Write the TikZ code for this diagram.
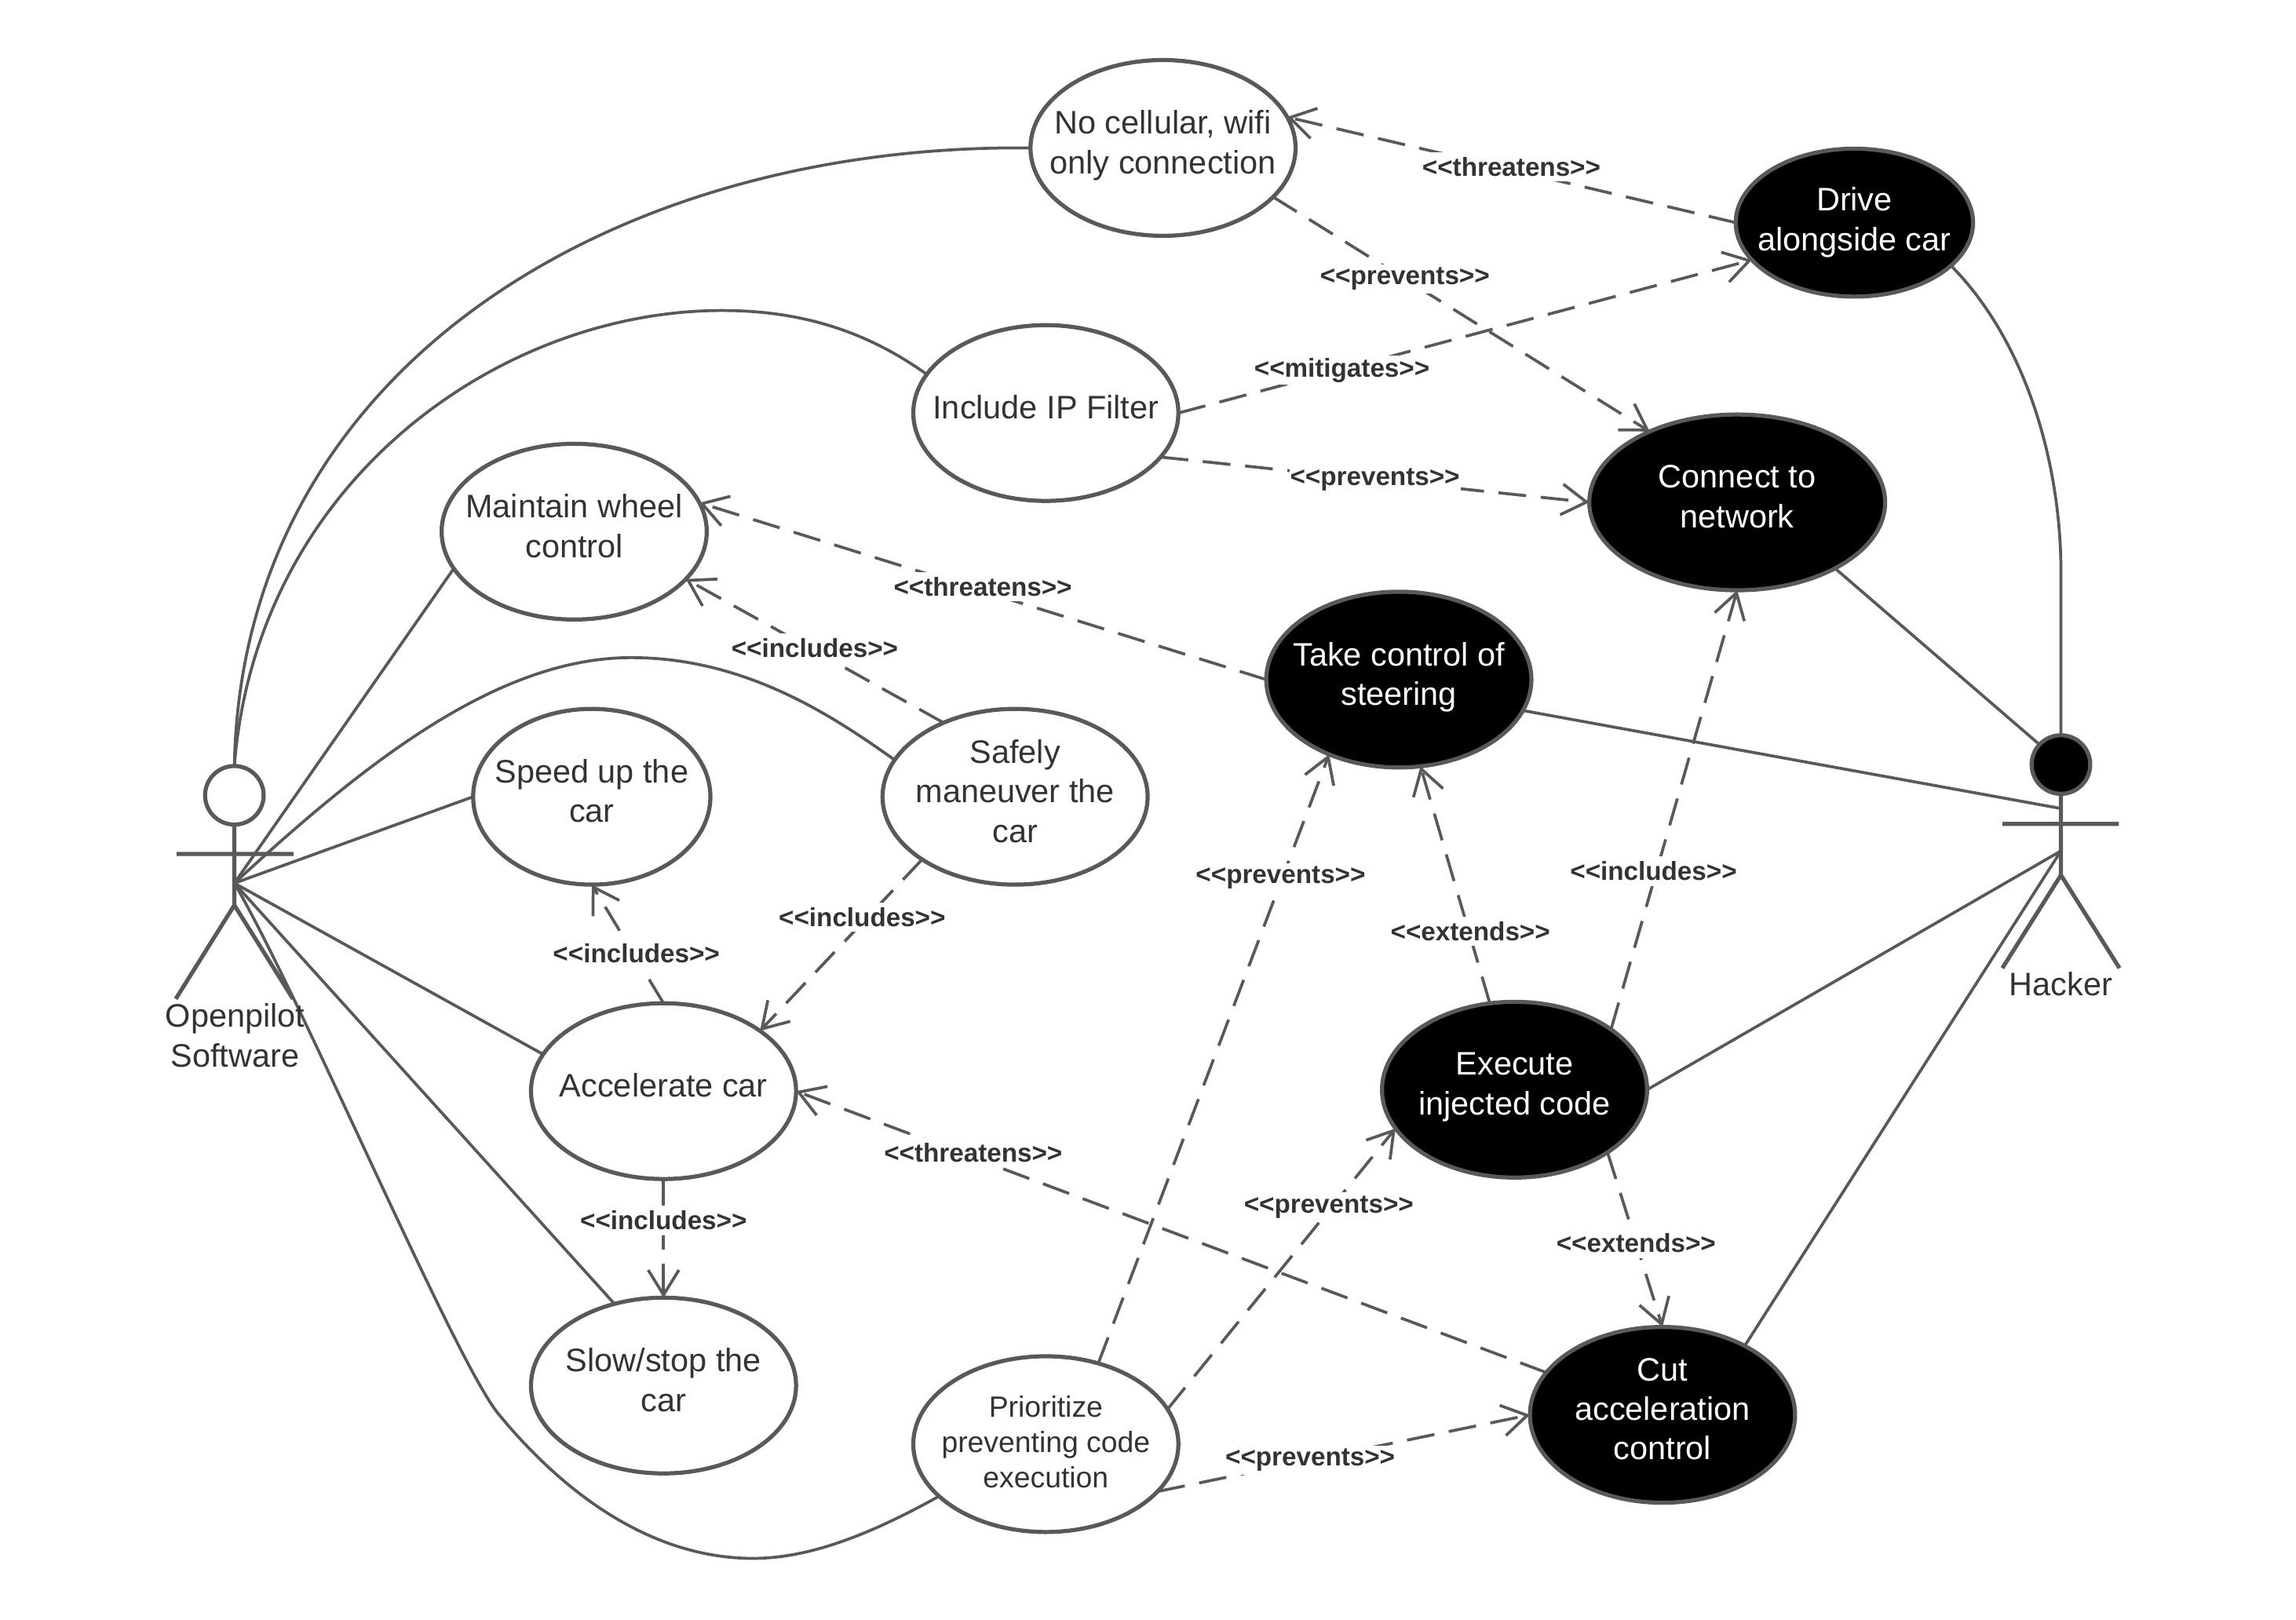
\documentclass[tikz,border=0pt]{standalone}
\usepackage{fontspec}
\setmainfont{Liberation Sans}
\usetikzlibrary{arrows.meta,shapes.geometric}

\newcommand{\stereo}[1]{<{}<#1>{}>}

\begin{document}
\begin{tikzpicture}[x=1pt,y=-1pt,>={Straight Barb[length=17pt,width=21pt]},
	  case node/.style={ellipse,draw=linegray,line width=2.8pt,fill=white,text=textgray,inner sep=-20pt,outer sep=0pt,
	    minimum width=181pt,minimum height=120pt,align=center,text depth=8pt,font=\fontsize{22.2}{27}\selectfont},
	  hack node/.style={case node,fill=black,text=white},
	  actor head/.style={circle,draw=linegray,line width=2.8pt,fill=white,inner sep=0pt,outer sep=0pt,minimum size=40pt},
	  actor name/.style={align=center,text=textgray,font=\fontsize{22.2}{27}\selectfont},
	  body/.style={draw=linegray,line width=2.8pt},
	  assoc/.style={draw=linegray,line width=2pt},
	  dep/.style={->,draw=linegray,line width=2pt,dash pattern=on 19pt off 10pt},
	  tag/.style={fill=white,inner sep=0.5pt,minimum height=20pt,text=textgray,font=\fontsize{17.8}{20}\selectfont\bfseries}]
	\definecolor{linegray}{HTML}{595959}
	\definecolor{textgray}{HTML}{333333}
	\useasboundingbox (0,0) rectangle (1567.5,1105.6);

	\node[case node] (nocell) at (794,101) {No cellular, wifi\\only connection};
	\node[hack node,minimum width=162pt,minimum height=101pt,text depth=5pt] (drive) at (1266,152) {Drive\\alongside car};
	\node[case node] (ipfilter) at (714,282) {Include IP Filter};
	\node[hack node,minimum width=202pt] (connect) at (1186,343) {Connect to\\network};
	\node[case node] (wheel) at (392,363) {Maintain wheel\\control};
	\node[hack node] (steer) at (955,464) {Take control of\\steering};
	\node[case node,minimum width=162pt] (speed) at (404,544) {Speed up the\\car};
	\node[case node] (safely) at (693,544) {Safely\\maneuver the\\car};
	\node[case node] (accel) at (453,745) {Accelerate car};
	\node[hack node] (inject) at (1034,744) {Execute\\injected code};
	\node[case node] (slow) at (453,946) {Slow/stop the\\car};
	\node[case node,text depth=3pt,font=\fontsize{20}{24}\selectfont] (prior) at (714,986) {Prioritize\\preventing code\\execution};
	\node[hack node] (cut) at (1135,966) {Cut\\acceleration\\control};

	% left actor
	\node[actor head] (ohead) at (160,543) {};
	\coordinate (ohub) at (160,603);
	\coordinate (ohip) at (160,618);
	\coordinate (oarml) at (120.5,583);
	\coordinate (oarmr) at (200.5,583);
	\coordinate (olegl) at (120,682);
	\coordinate (olegr) at (200,682);
	\draw[body] (ohead) -- (ohip) (oarml) -- (oarmr) (olegl) -- (ohip) -- (olegr);

	% right actor
	\node[actor head,fill=black] (hhead) at (1407,522) {};
	\coordinate (hhub) at (1407,581);
	\coordinate (hneck) at (1407,552);
	\coordinate (hhip) at (1407,597.5);
	\coordinate (harml) at (1367,562.5);
	\coordinate (harmr) at (1446.5,562.5);
	\coordinate (hlegl) at (1367,661);
	\coordinate (hlegr) at (1447,661);
	\draw[body] (hhead) -- (hhip) (harml) -- (harmr) (hlegl) -- (hhip) -- (hlegr);

	% associations
	\draw[assoc] (nocell.180) .. controls (420,98) and (165,250) .. (ohead.90);
	\draw[assoc] (ipfilter.162) .. controls (590,225) and (545,212) .. (493,212)
		.. controls (340,212) and (175,330) .. (ohead.90);
	\draw[assoc] (safely.163) .. controls (570,490) and (510,449) .. (431,449)
		.. controls (340,449) and (250,520) .. (ohub);
	\draw[assoc] (prior.206) .. controls (590,1050) and (550,1064) .. (514,1064)
		.. controls (445,1064) and (385,1020) .. (340,965)
		.. controls (310,928) and (205,680) .. (ohub);
	\draw[assoc] (wheel.197) -- (ohub);
	\draw[assoc] (speed.180) -- (ohub);
	\draw[assoc] (accel.163) -- (ohub);
	\draw[assoc] (slow.121) -- (ohub);
	\draw[assoc] (drive.-24) .. controls (1385,235) and (1407,320) .. (1407,390) -- (hhead.90);
	\draw[assoc] (connect.-34) -- (hhead.137);
	\draw[assoc] (steer.-14) -- (hneck);
	\draw[assoc] (inject.0) -- (hhub);
	\draw[assoc] (cut.40) -- (hhub);

	\node[actor name] (oname) at (160.5,707) {Openpilot\\Software};
	\node[actor name] (hname) at (1407,672) {Hacker};

	% dependencies
	\draw[dep] (drive.180) -- node[tag,pos=0.5,yshift=2pt] {\stereo{threatens}} (nocell.14);
	\draw[dep] (nocell.-24) -- node[tag,pos=0.35] {\stereo{prevents}} (connect.141);
	\draw[dep] (ipfilter.0) -- node[tag,pos=0.28,xshift=2pt] {\stereo{mitigates}} (drive.200);
	\draw[dep] (ipfilter.-21) -- node[tag,pos=0.5] {\stereo{prevents}} (connect.180);
	\draw[dep] (steer.180) -- node[tag,pos=0.5,yshift=3pt] {\stereo{threatens}} (wheel.13);
	\draw[dep] (safely.134) -- node[tag,pos=0.5,yshift=2pt] {\stereo{includes}} (wheel.-23);
	\draw[dep] (safely.214) -- node[tag,pos=0.37,yshift=4pt] {\stereo{includes}} (accel.32);
	\draw[dep] (accel.90) -- node[tag,pos=0.42,xshift=2pt] {\stereo{includes}} (speed.270);
	\draw[dep] (accel.270) -- node[tag,pos=0.35] {\stereo{includes}} (slow.90);
	\draw[dep] (cut.160) -- node[tag,pos=0.76,xshift=-2pt,yshift=4pt] {\stereo{threatens}} (accel.0);
	\draw[dep] (inject.106) -- node[tag,pos=0.28,yshift=4pt] {\stereo{extends}} (steer.-76);
	\draw[dep] (inject.32) -- node[tag,pos=0.36,xshift=-2pt] {\stereo{includes}} (connect.270);
	\draw[dep] (inject.-34) -- node[tag,pos=0.52] {\stereo{extends}} (cut.90);
	\draw[dep] (prior.57) -- node[tag,pos=0.79,yshift=3pt] {\stereo{prevents}} (steer.227);
	\draw[dep] (prior.16) -- node[tag,pos=0.72,xshift=-2pt] {\stereo{prevents}} (inject.198);
	\draw[dep] (prior.-23) -- node[tag,pos=0.41] {\stereo{prevents}} (cut.180);

\end{tikzpicture}
\end{document}
